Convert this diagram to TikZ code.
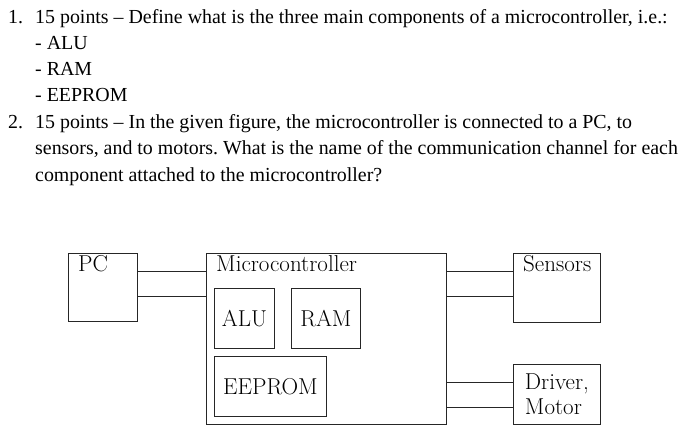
\documentclass[tikz,border=0pt]{standalone}
\usepackage{fontspec}
\newfontfamily\questionfont{Liberation Serif}
\usetikzlibrary{calc, positioning}
\frenchspacing
\tikzstyle{unit}=[
rectangle,
draw=black!85,
line width=0.9pt,
anchor=north west,
inner sep=0pt,
]
\tikzstyle{question}=[
anchor=base west,
inner sep=0pt,
font=\questionfont\fontsize{19.9}{22}\selectfont,
]
\tikzstyle{link}=[draw=black!85, line width=0.9pt]

\begin{document}
\begin{tikzpicture}
        [x=1pt, y=-1pt, font=\fontsize{23}{25}\selectfont]
        \useasboundingbox (0,0) rectangle (686,430);

        \begin{scope}[every node/.style=question]
          \node (n1) at (8,24) {1.};
          \node (q1) at (35,24) {15 points – Define what is the three main components of a microcontroller, i.e.:};
          \node (q1a) at (35,50) {- ALU};
          \node (q1b) at (35,76) {- RAM};
          \node (q1c) at (35,102) {- EEPROM};
          \node (n2) at (8,129) {2.};
          \node (q2) at (35,129) {15 points – In the given figure, the microcontroller is connected to a PC, to};
          \node (q2a) at (35,155) {sensors, and to motors. What is the name of the communication channel for each};
          \node (q2b) at (35,182) {component attached to the microcontroller?};
        \end{scope}

        \begin{scope}[every node/.style=unit]
          \node[minimum width=69pt, minimum height=68pt] (pc) at (68,253) {};
          \node[minimum width=240pt, minimum height=171pt] (mc) at (206,253) {};
          \node[minimum width=60pt, minimum height=60pt] (alu) at (214,288) {ALU};
          \node[minimum width=69pt, minimum height=60pt] (ram) at (291,288) {RAM};
          \node[minimum width=112pt, minimum height=60pt] (eeprom) at (214,356) {EEPROM};
          \node[minimum width=87pt, minimum height=69pt] (sensors) at (513,253) {};
          \node[minimum width=87pt, minimum height=60pt, align=left] (driver) at (513,364) {Driver,\\Motor};
        \end{scope}

        \node[anchor=base west, inner sep=0pt] (pc label) at ($(pc.north west)+(10,19)$) {PC};
        \node[anchor=base west, inner sep=0pt] (mc label) at ($(mc.north west)+(10,19)$) {Microcontroller};
        \node[anchor=base west, inner sep=0pt] (sensors label) at ($(sensors.north west)+(10,19)$) {Sensors};

        \coordinate (d1) at ([yshift=-18pt]driver.north west);
        \coordinate (d2) at ([yshift=-43pt]driver.north west);

        \draw[link] ([yshift=-18pt]pc.north east) -- ([yshift=-18pt]mc.north west);
        \draw[link] ([yshift=-43pt]pc.north east) -- ([yshift=-43pt]mc.north west);
        \draw[link] ([yshift=-18pt]mc.north east) -- ([yshift=-18pt]sensors.north west);
        \draw[link] ([yshift=-43pt]mc.north east) -- ([yshift=-43pt]sensors.north west);
        \draw[link] (d1 -| mc.east) -- (d1);
        \draw[link] (d2 -| mc.east) -- (d2);
      \end{tikzpicture}
\end{document}
